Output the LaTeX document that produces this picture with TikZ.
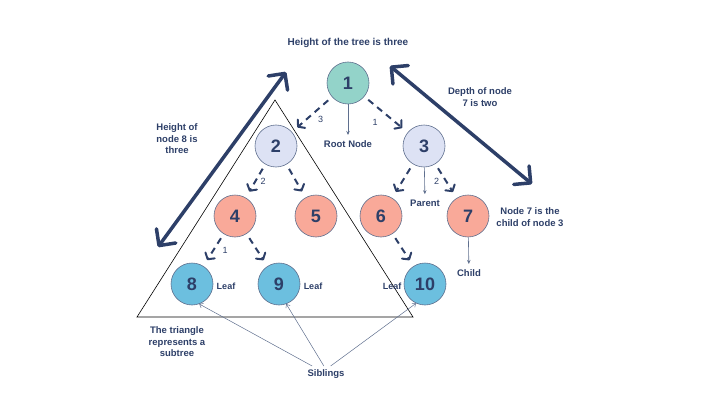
\documentclass[tikz,border=0pt]{standalone}
\usepackage{fontspec}
\setmainfont{Liberation Sans}
\usetikzlibrary{arrows.meta, positioning}
\definecolor{navy}{HTML}{2D3F68}
\definecolor{rim}{HTML}{5F6F8E}
\definecolor{rootfill}{HTML}{93D3C9}
\definecolor{midfill}{HTML}{DDE2F4}
\definecolor{innerfill}{HTML}{F9A999}
\definecolor{leaffill}{HTML}{6CBFDF}

\begin{document}
\begin{tikzpicture}[x=1pt, y=-1pt,
  nd/.style={circle, draw=rim, line width=0.6pt, minimum size=42pt, inner sep=0pt, text=navy, font=\fontsize{18}{18}\selectfont\bfseries},
  lbl/.style={text=navy, font=\fontsize{9.5}{11.5}\selectfont\bfseries, align=center},
  num/.style={text=navy, font=\fontsize{9}{9}\selectfont, inner sep=1pt},
  dashedge/.style={navy, line width=2pt, dash pattern=on 6.5pt off 5pt, -{Straight Barb[length=4.5pt, width=11pt, round]}, shorten <=5pt, shorten >=7pt},
  pointer/.style={rim, line width=0.6pt, -{Stealth[length=4pt, width=3.5pt]}, shorten >=2pt},
  sibline/.style={rim, line width=0.5pt, -{Straight Barb[length=3pt, width=5pt]}},
  bigarrow/.style={navy, line width=3.5pt, line cap=round, line join=round, {Straight Barb[length=12pt, width=24pt, round]}-{Straight Barb[length=12pt, width=24pt, round]}}
]
\useasboundingbox (0,0) rectangle (720,412);

\draw[line width=0.6pt] (275,100) -- (137,317) -- (413,317) -- cycle;

\node[nd, fill=rootfill] (n1) at (348,83) {1};
\node[nd, fill=midfill] (n2) at (276,146) {2};
\node[nd, fill=midfill] (n3) at (424,146) {3};
\node[nd, fill=innerfill] (n4) at (235,216) {4};
\node[nd, fill=innerfill] (n5) at (316,216) {5};
\node[nd, fill=innerfill] (n6) at (381,216) {6};
\node[nd, fill=innerfill] (n7) at (468,216) {7};
\node[nd, fill=leaffill] (n8) at (192,284) {8};
\node[nd, fill=leaffill] (n9) at (279,284) {9};
\node[nd, fill=leaffill] (n10) at (425,284) {10};

\draw[dashedge] (n1) -- node[num, pos=.5, below right=0pt and 4pt] {3} (n2);
\draw[dashedge] (n1) -- node[num, pos=.4, below left=6pt and 2pt] {1} (n3);
\draw[dashedge] (n2) -- node[num, midway, right=3pt] {2} (n4);
\draw[dashedge] (n2) -- (n5);
\draw[dashedge] (n3) -- (n6);
\draw[dashedge] (n3) -- node[num, midway, left=5pt] {2} (n7);
\draw[dashedge] (n4) -- node[num, midway, right=7pt] {1} (n8);
\draw[dashedge] (n4) -- (n9);
\draw[dashedge] (n6) -- (n10);

\node[lbl] (root) at (348,144) {Root Node};
\node[lbl] (parent) at (425,203) {Parent};
\node[lbl] (child) at (469,273) {Child};
\draw[pointer] (n1) -- (root);
\draw[pointer] (n3) -- (parent);
\draw[pointer] (n7) -- (child);

\node[lbl, font=\fontsize{9}{11}\selectfont\bfseries] (leaf8) at (226,286) {Leaf};
\node[lbl, font=\fontsize{9}{11}\selectfont\bfseries] (leaf9) at (313,286) {Leaf};
\node[lbl, font=\fontsize{9}{11}\selectfont\bfseries] (leaf10) at (392,286) {Leaf};

\node[lbl, font=\fontsize{10}{12}\selectfont\bfseries] (title) at (348,43) {Height of the tree is three};
\node[lbl] (hnode) at (177,139) {Height of\\node 8 is\\three};
\node[lbl] (depth) at (480,97) {Depth of node\\7 is two};
\node[lbl] (childof) at (530,217) {Node 7 is the\\child of node 3};
\node[lbl] (subtree) at (177,342) {The triangle\\represents a\\subtree};
\node[lbl] (sib) at (326,374) {Siblings};

\draw[sibline] (sib.150) -- (n8.-70);
\draw[sibline] (sib.105) -- (n9.-70);
\draw[sibline] (sib.60) -- (n10.-115);

\coordinate (hTop) at (286,72);
\coordinate (hBot) at (158,247);
\coordinate (dTop) at (390,66);
\coordinate (dBot) at (532,184);
\draw[bigarrow] (hBot) -- (hTop);
\draw[bigarrow] (dTop) -- (dBot);

\end{tikzpicture}
\end{document}
